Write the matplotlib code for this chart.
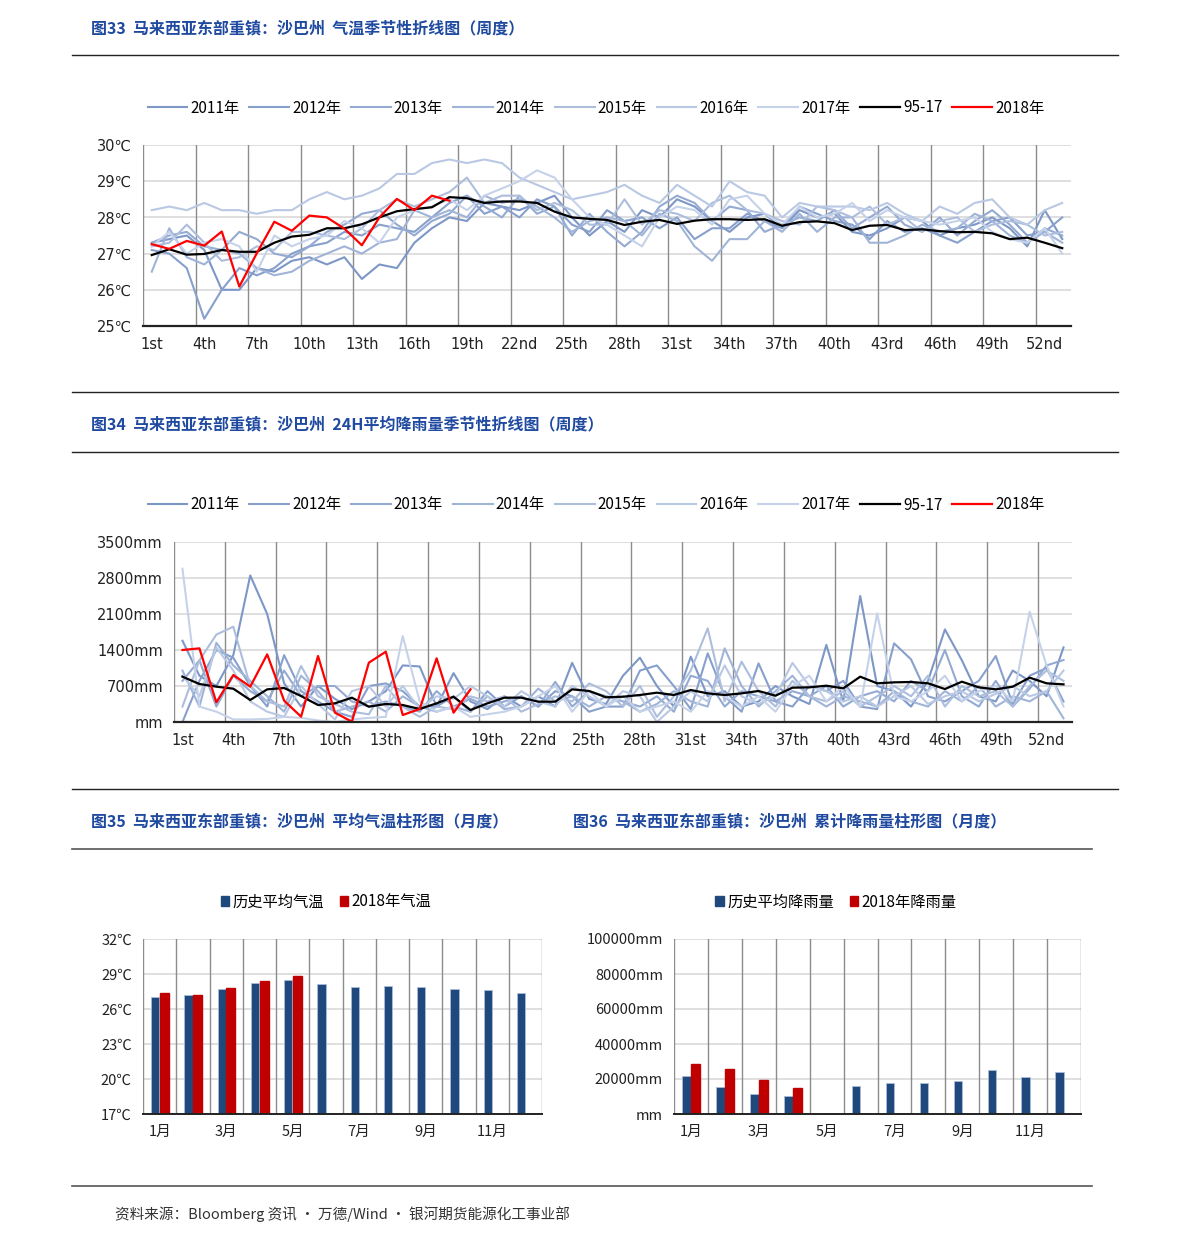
import matplotlib
matplotlib.use("Agg")
import matplotlib.pyplot as plt
from matplotlib.lines import Line2D
from matplotlib.patches import Patch
import numpy as np

plt.rcParams['font.family'] = ['DejaVu Sans', 'Noto Sans CJK SC']

# ---------------- data ----------------
weeks = list(range(1, 54))
week_labels = ["1st", "4th", "7th", "10th", "13th", "16th", "19th", "22nd", "25th",
               "28th", "31st", "34th", "37th", "40th", "43rd", "46th", "49th", "52nd"]
year_names = ["2011年", "2012年", "2013年", "2014年", "2015年", "2016年", "2017年"]
year_colors = ['#7d97c7', '#88a0cc', '#94aad2', '#a0b4d8', '#adbedd', '#b9c8e3', '#c6d2e9']

temp_2011 = [27.3, 27.4, 27.5, 27.1, 26.0, 26.0, 26.6, 26.5, 26.8, 26.9, 26.7, 26.9, 26.3, 26.7, 26.6, 27.3, 27.7, 28.0, 27.9, 28.4, 28.3, 28.2, 28.4, 28.6, 28.0, 27.5, 27.9, 27.6, 28.2, 28.0, 28.5, 28.3, 27.9, 27.6, 28.0, 28.1, 27.7, 28.2, 28.0, 28.1, 27.6, 27.5, 27.7, 28.0, 27.9, 27.5, 27.7, 27.8, 28.0, 27.7, 27.2, 28.2, 27.4]
temp_2012 = [27.1, 27.0, 26.6, 25.2, 26.0, 26.6, 26.4, 26.6, 27.0, 27.2, 27.3, 27.6, 27.5, 27.8, 27.7, 27.6, 28.0, 28.4, 28.6, 28.1, 28.3, 28.0, 28.5, 28.3, 27.8, 27.6, 28.2, 27.9, 28.0, 27.7, 28.0, 27.4, 27.7, 27.7, 28.1, 27.9, 27.7, 28.3, 28.1, 27.9, 27.8, 27.4, 27.9, 27.6, 27.7, 27.5, 27.3, 27.6, 27.9, 28.0, 27.5, 27.6, 28.0]
temp_2013 = [27.3, 27.5, 27.6, 27.2, 27.1, 27.6, 27.4, 27.0, 26.9, 27.2, 27.6, 27.8, 28.1, 28.2, 27.8, 27.5, 27.9, 28.1, 28.6, 28.3, 28.0, 28.6, 28.1, 28.3, 27.5, 28.1, 27.6, 27.2, 27.6, 28.3, 28.6, 28.4, 27.9, 28.3, 28.2, 27.6, 27.8, 28.0, 27.9, 28.2, 27.7, 28.0, 28.3, 27.8, 27.6, 28.0, 27.5, 27.9, 28.2, 27.8, 27.3, 27.7, 27.5]
temp_2014 = [26.5, 27.7, 26.9, 26.7, 27.1, 27.0, 26.6, 26.4, 26.5, 26.8, 27.0, 27.2, 27.0, 27.3, 27.4, 28.2, 28.0, 28.2, 28.0, 28.6, 28.4, 28.5, 28.3, 28.0, 27.6, 27.9, 28.0, 27.9, 27.5, 28.1, 27.9, 27.2, 26.8, 27.4, 27.4, 27.9, 27.6, 28.1, 27.6, 28.0, 28.0, 27.3, 27.3, 27.5, 27.8, 27.6, 27.7, 28.1, 27.9, 27.5, 27.3, 27.6, 27.3]
temp_2015 = [27.2, 27.3, 27.8, 27.3, 26.8, 26.9, 27.2, 27.1, 27.6, 27.6, 27.5, 27.4, 27.7, 28.2, 28.5, 28.3, 28.5, 28.7, 29.1, 28.4, 28.6, 28.6, 28.2, 28.4, 28.2, 27.8, 27.8, 28.5, 27.8, 28.2, 28.1, 27.9, 28.4, 28.6, 28.2, 28.1, 27.9, 27.8, 28.3, 28.2, 28.0, 28.3, 27.8, 28.0, 27.6, 27.9, 28.0, 27.6, 27.8, 27.9, 27.8, 27.5, 27.6]
temp_2016 = [28.2, 28.3, 28.2, 28.4, 28.2, 28.2, 28.1, 28.2, 28.2, 28.5, 28.7, 28.5, 28.6, 28.8, 29.2, 29.2, 29.5, 29.6, 29.5, 29.6, 29.5, 29.1, 28.9, 28.7, 28.5, 28.6, 28.7, 28.9, 28.6, 28.4, 28.9, 28.6, 28.3, 29.0, 28.7, 28.6, 28.0, 28.4, 28.3, 28.3, 28.3, 28.2, 28.4, 28.1, 27.9, 28.3, 28.1, 28.4, 28.5, 28.0, 27.8, 28.2, 28.4]
temp_2017 = [27.2, 27.6, 27.0, 27.3, 27.4, 27.2, 26.5, 27.5, 27.2, 27.4, 27.5, 27.9, 27.7, 27.3, 28.0, 28.2, 28.3, 28.5, 28.2, 28.6, 28.8, 29.0, 29.3, 29.1, 28.5, 28.0, 27.8, 27.5, 27.2, 28.0, 28.3, 28.2, 27.8, 28.5, 28.6, 28.1, 27.8, 28.3, 28.0, 28.1, 28.4, 27.9, 28.2, 28.0, 27.9, 27.8, 27.9, 28.0, 27.6, 27.4, 27.3, 27.7, 27.0]
temp_avg = [26.96, 27.12, 26.97, 26.99, 27.10, 27.05, 27.05, 27.30, 27.47, 27.52, 27.70, 27.70, 27.81, 28.00, 28.17, 28.23, 28.28, 28.56, 28.53, 28.40, 28.44, 28.44, 28.40, 28.16, 28.00, 27.96, 27.93, 27.79, 27.88, 27.93, 27.82, 27.91, 27.95, 27.95, 27.93, 27.95, 27.77, 27.87, 27.89, 27.84, 27.65, 27.77, 27.79, 27.65, 27.67, 27.62, 27.59, 27.60, 27.56, 27.40, 27.44, 27.30, 27.15]
temp_2018 = [27.26, 27.13, 27.35, 27.22, 27.61, 26.09, 27.01, 27.88, 27.63, 28.05, 28.00, 27.69, 27.23, 28.00, 28.51, 28.20, 28.60, 28.46]

rain_2011 = [1580, 900, 700, 1300, 2850, 2100, 750, 300, 700, 450, 250, 400, 600, 1100, 1080, 300, 950, 400, 250, 500, 300, 500, 300, 1150, 450, 350, 900, 1250, 700, 300, 1270, 500, 600, 300, 400, 700, 500, 350, 1500, 400, 2450, 700, 600, 300, 800, 1800, 1200, 500, 400, 1000, 800, 500, 1450]
rain_2012 = [0, 800, 1400, 1250, 700, 300, 1300, 600, 400, 200, 100, 700, 750, 600, 300, 300, 500, 200, 600, 300, 500, 300, 600, 500, 200, 300, 300, 1000, 1100, 700, 250, 1335, 500, 200, 1140, 400, 300, 700, 600, 800, 300, 250, 1529, 1218, 500, 400, 600, 800, 1283, 350, 900, 1050, 400]
rain_2013 = [800, 1200, 300, 900, 600, 400, 1000, 500, 700, 700, 400, 300, 400, 300, 200, 600, 300, 450, 300, 400, 500, 300, 780, 300, 600, 500, 400, 300, 500, 200, 900, 800, 300, 600, 500, 400, 600, 500, 700, 300, 500, 600, 400, 800, 600, 1400, 500, 300, 800, 300, 650, 1100, 1205]
rain_2014 = [1000, 300, 1540, 1100, 800, 500, 200, 900, 600, 200, 300, 400, 200, 500, 300, 200, 300, 200, 500, 250, 300, 650, 400, 500, 300, 500, 400, 200, 350, 600, 400, 300, 1432, 700, 300, 600, 900, 500, 300, 500, 400, 300, 600, 400, 300, 600, 400, 700, 300, 500, 400, 600, 71]
rain_2015 = [300, 1200, 1700, 1853, 700, 400, 300, 1089, 500, 350, 200, 150, 700, 300, 100, 300, 250, 500, 400, 500, 200, 350, 500, 400, 750, 600, 300, 700, 100, 500, 1000, 1821, 400, 1173, 600, 300, 800, 500, 400, 600, 300, 500, 700, 500, 900, 300, 700, 500, 600, 300, 700, 1000, 800]
rain_2016 = [900, 500, 1450, 1000, 400, 200, 100, 700, 350, 50, 600, 700, 300, 700, 250, 500, 450, 700, 500, 300, 600, 400, 300, 700, 500, 300, 600, 500, 0, 300, 600, 400, 1100, 500, 350, 500, 1150, 700, 600, 400, 500, 300, 500, 700, 350, 500, 600, 400, 550, 700, 500, 600, 1000]
rain_2017 = [2981, 300, 200, 50, 50, 60, 100, 80, 30, 0, 50, 80, 100, 1672, 400, 200, 300, 100, 150, 200, 300, 500, 700, 200, 600, 300, 500, 200, 300, 400, 200, 600, 500, 300, 500, 200, 700, 900, 400, 700, 300, 2112, 500, 400, 600, 900, 400, 600, 700, 400, 2145, 1100, 300]
rain_avg = [881, 739, 687, 648, 428, 635, 661, 505, 330, 363, 473, 298, 350, 330, 253, 363, 492, 233, 363, 473, 473, 395, 395, 635, 603, 480, 492, 525, 570, 525, 622, 557, 525, 557, 603, 512, 667, 674, 706, 654, 881, 752, 771, 778, 752, 641, 784, 674, 635, 687, 862, 752, 732]
rain_2018 = [1400, 1432, 382, 914, 687, 1315, 415, 104, 1283, 181, 6, 1153, 1367, 136, 253, 1238, 181, 635]

months = list(range(1, 13))
month_labels = ["1月", "", "3月", "", "5月", "", "7月", "", "9月", "", "11月", ""]
temp_hist_month = [27.03, 27.20, 27.71, 28.26, 28.49, 28.11, 27.89, 27.94, 27.89, 27.74, 27.66, 27.37]
temp_2018_month = [27.37, 27.17, 27.80, 28.40, 28.80, 0, 0, 0, 0, 0, 0, 0]
rain_hist_month = [21524, 15429, 11619, 10476, 0, 16190, 17524, 17524, 19048, 25143, 21143, 23810]
rain_2018_month = [28381, 25905, 19619, 14857, 0, 0, 0, 0, 0, 0, 0, 0]

temp_years = [temp_2011, temp_2012, temp_2013, temp_2014, temp_2015, temp_2016, temp_2017]
rain_years = [rain_2011, rain_2012, rain_2013, rain_2014, rain_2015, rain_2016, rain_2017]

# ---------------- layout ----------------
W, H = 1191, 1243
fig = plt.figure(figsize=(W / 100, H / 100), dpi=100)
fig.patch.set_facecolor('white')

def rect(l, t, r, b):
    return [l / W, 1 - b / H, (r - l) / W, (b - t) / H]

TITLE_C = '#1f4aa0'
CJK = ['Noto Sans CJK SC', 'DejaVu Sans']
LEG = ['Noto Sans CJK SC', 'DejaVu Sans']

def hline(y, x0, x1, c='#222222', lw=1.0):
    fig.add_artist(Line2D([x0 / W, x1 / W], [1 - y / H, 1 - y / H], color=c, lw=lw))

def title(x, y, s):
    fig.text(x / W, 1 - y / H, s, color=TITLE_C, fontsize=11.5, fontweight='bold',
             family=CJK, va='center', ha='left')

title(91, 28, "图33  马来西亚东部重镇：沙巴州  气温季节性折线图（周度）")
hline(55, 72, 1118)
hline(392, 72, 1118)
title(91, 424, "图34  马来西亚东部重镇：沙巴州  24H平均降雨量季节性折线图（周度）")
hline(452, 72, 1118)
hline(789, 72, 1118)
title(91, 821, "图35  马来西亚东部重镇：沙巴州  平均气温柱形图（月度）")
title(573, 821, "图36  马来西亚东部重镇：沙巴州  累计降雨量柱形图（月度）")
hline(849, 72, 1092, c='#555555', lw=1.2)
hline(1186, 72, 1092, c='#555555', lw=1.2)
fig.text(115 / W, 1 - 1214 / H, "资料来源：Bloomberg 资讯 • 万德/Wind • 银河期货能源化工事业部",
         fontsize=10.5, family=CJK, color='#333333', va='center', ha='left')

GRID_H = '#d9d9d9'
GRID_V = '#8c8c8c'


def line_chart(ax, years, avg, y2018, ylim, yticks, yfmt):
    for vals, c in zip(years, year_colors):
        ax.plot(weeks, vals, color=c, lw=1.5, zorder=3)
    ax.plot(weeks, avg, color='black', lw=1.6, zorder=4)
    ax.plot(weeks[:len(y2018)], y2018, color='#ff0000', lw=1.6, zorder=5)
    ax.set_xlim(0.5, 53.5)
    ax.set_ylim(*ylim)
    ax.set_yticks(yticks)
    ax.set_yticklabels([yfmt(v) for v in yticks], fontsize=10.5, color='#222222')
    ax.set_xticks(list(range(1, 54, 3)))
    ax.set_xticklabels(week_labels, fontsize=10.5, color='#222222')
    ax.tick_params(length=0, pad=8)
    for y in yticks[1:]:
        ax.axhline(y, color=GRID_H, lw=1.2, zorder=1)
    for x in np.arange(0.5, 53, 3):
        ax.axvline(x, color=GRID_V, lw=1.0, zorder=2)
    for s in ['top', 'right', 'left']:
        ax.spines[s].set_visible(False)
    ax.spines['bottom'].set_color('#222222')
    ax.spines['bottom'].set_linewidth(1.6)
    ax.spines['bottom'].set_zorder(6)
    handles = [Line2D([], [], color=c, lw=1.5) for c in year_colors]
    handles += [Line2D([], [], color='black', lw=1.6), Line2D([], [], color='#ff0000', lw=1.6)]
    labels = year_names + ["95-17", "2018年"]
    return handles, labels


LEG_KW = dict(loc='center', ncol=9, frameon=False, prop={'family': LEG, 'size': 11},
              handlelength=2.6, handletextpad=0.2, columnspacing=0.65)

ax1 = fig.add_axes(rect(143, 145, 1071, 326))
h, l = line_chart(ax1, temp_years, temp_avg, temp_2018, (25, 30), [25, 26, 27, 28, 29, 30],
                  lambda v: f"{v}℃")
fig.legend(h, l, bbox_to_anchor=(596 / W, 1 - 108 / H), **LEG_KW)

ax2 = fig.add_axes(rect(174, 542, 1072, 722))
rain_ticks = [0, 700, 1400, 2100, 2800, 3500]
h, l = line_chart(ax2, rain_years, rain_avg, rain_2018, (0, 3500), rain_ticks,
                  lambda v: f"{v}mm" if v else "mm")
fig.legend(h, l, bbox_to_anchor=(596 / W, 1 - 505 / H), **LEG_KW)


def bar_chart(ax, hist, y2018, ylim, yticks, yfmt, leg_names, leg_x):
    ymin = ylim[0]
    x = np.array(months)
    hv = np.array(hist, dtype=float)
    rv = np.array(y2018, dtype=float)
    ax.bar(x - 0.13, np.clip(hv - ymin, 0, None), bottom=ymin, width=0.25,
           color='#1f497d', edgecolor='#a9bddb', linewidth=0.6, zorder=3)
    ax.bar(x + 0.14, np.clip(rv - ymin, 0, None), bottom=ymin, width=0.27,
           color='#c00000', edgecolor='#c00000', linewidth=1.0, zorder=3)
    ax.set_xlim(0.5, 12.5)
    ax.set_ylim(*ylim)
    ax.set_yticks(yticks)
    ax.set_yticklabels([yfmt(v) for v in yticks], fontsize=10.5, color='#222222', family=CJK)
    ax.set_xticks(months)
    ax.set_xticklabels(month_labels, fontsize=10.5, color='#222222', family=CJK)
    ax.tick_params(length=0, pad=8)
    for y in yticks[1:]:
        ax.axhline(y, color=GRID_H, lw=1.2, zorder=1)
    for xv in np.arange(0.5, 13, 1):
        ax.axvline(xv, color=GRID_V, lw=1.0, zorder=2)
    for s in ['top', 'right', 'left']:
        ax.spines[s].set_visible(False)
    ax.spines['bottom'].set_color('#222222')
    ax.spines['bottom'].set_linewidth(1.4)
    ax.spines['bottom'].set_zorder(6)
    handles = [Patch(color='#1f497d'), Patch(color='#c00000')]
    fig.legend(handles, leg_names, loc='center', bbox_to_anchor=(leg_x / W, 1 - 902 / H),
               ncol=2, frameon=False, prop={'family': CJK, 'size': 11},
               handlelength=0.55, handleheight=0.55, handletextpad=0.25, columnspacing=1.0)


ax3 = fig.add_axes(rect(143, 939, 542, 1114))
bar_chart(ax3, temp_hist_month, temp_2018_month, (17, 32), [17, 20, 23, 26, 29, 32],
          lambda v: f"{v}℃", ["历史平均气温", "2018年气温"], 326)

ax4 = fig.add_axes(rect(674, 939, 1081, 1114))
bar_chart(ax4, rain_hist_month, rain_2018_month, (0, 100000),
          [0, 20000, 40000, 60000, 80000, 100000],
          lambda v: f"{v}mm" if v else "mm", ["历史平均降雨量", "2018年降雨量"], 836)

fig.savefig("out.png", dpi=100, facecolor='white')
